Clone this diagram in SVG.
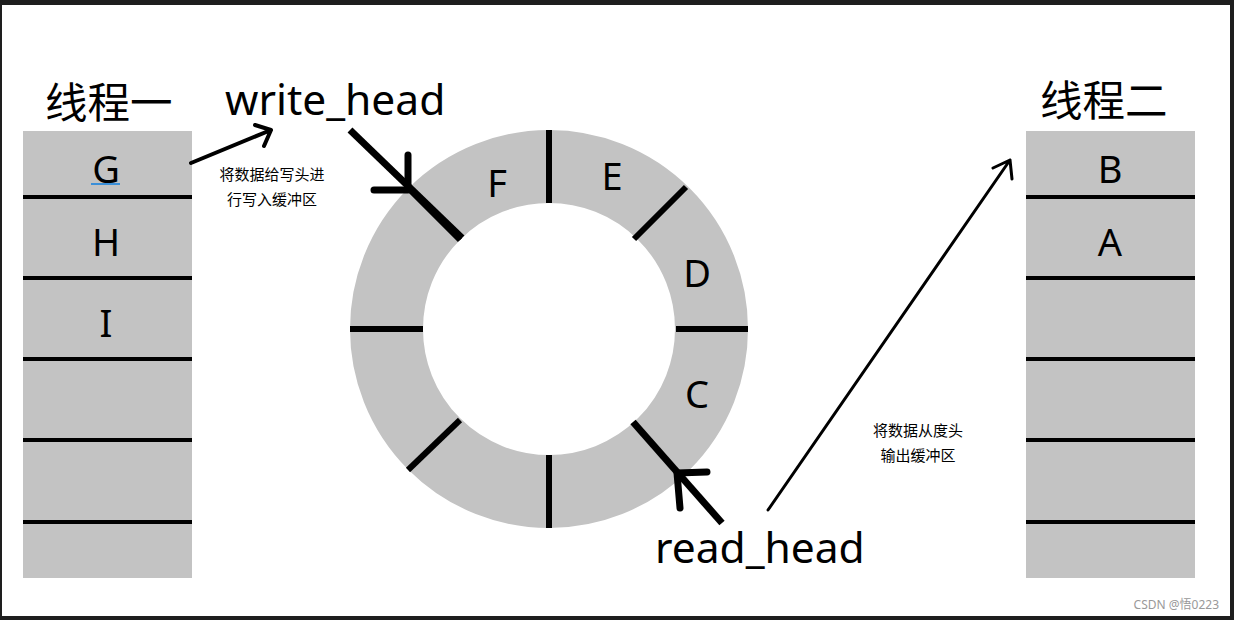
<svg xmlns="http://www.w3.org/2000/svg" width="1234" height="620" viewBox="0 0 1234 620">
<style>
text{font-family:"Noto Sans","Noto Sans CJK SC",sans-serif;fill:#000}
.big{font-size:42.5px}
.lab{font-size:38px;text-anchor:middle}
.sm{font-size:15px;text-anchor:middle}
.cell{fill:#c3c3c3}
.sep{stroke:#000;stroke-width:4}
.div{stroke:#000;stroke-width:6}
</style>
<rect x="0" y="0" width="1234" height="620" fill="#1e1e1e"/>
<rect x="2" y="5" width="1228" height="611" fill="#fff"/>
<g id="thread1">
<rect class="cell" x="23" y="131" width="169" height="447"/>
<path class="sep" d="M23 197H192M23 278H192M23 359H192M23 440H192M23 522H192"/>
<text class="lab" x="106" y="183">G</text>
<line x1="91" y1="184" x2="120" y2="184" stroke="#3a8fd8" stroke-width="2"/>
<text class="lab" x="106" y="256">H</text>
<text class="lab" x="106" y="337">I</text>
<text class="big" x="45" y="118">线程一</text>
</g>
<g id="thread2">
<rect class="cell" x="1026" y="131" width="169" height="447"/>
<path class="sep" d="M1026 197H1195M1026 278H1195M1026 359H1195M1026 440H1195M1026 522H1195"/>
<text class="lab" x="1110" y="183">B</text>
<text class="lab" x="1110" y="256">A</text>
<text class="big" x="1040" y="116">线程二</text>
</g>
<g id="ring">
<circle cx="549" cy="329" r="162.5" fill="none" stroke="#c3c3c3" stroke-width="73"/>
<g class="div">
<line x1="549" y1="130" x2="549" y2="203"/>
<line x1="549" y1="455" x2="549" y2="528"/>
<line x1="350" y1="329" x2="423" y2="329"/>
<line x1="676" y1="329" x2="748" y2="329"/>
<line x1="408" y1="188" x2="460" y2="240"/>
<line x1="686" y1="187" x2="634" y2="239"/>
<line x1="408" y1="470" x2="460" y2="420"/>
</g>
<text class="lab" x="497" y="197">F</text>
<text class="lab" x="612" y="190">E</text>
<text class="lab" x="697" y="287">D</text>
<text class="lab" x="697" y="408">C</text>
</g>
<g id="labels">
<text class="big" x="225" y="115">write_head</text>
<text class="big" x="655" y="563">read_head</text>
<text class="sm" x="272" y="180">将数据给写头进</text>
<text class="sm" x="272" y="205">行写入缓冲区</text>
<text class="sm" x="918" y="436">将数据从度头</text>
<text class="sm" x="918" y="461">输出缓冲区</text>
<text x="1219" y="609" style="font-size:12px;fill:#999;text-anchor:end">CSDN @悟0223</text>
</g>
<g id="connectors" fill="none" stroke="#000" stroke-linecap="round" stroke-linejoin="round">
<path d="M191 163L271 130M255 125L271 130L264 146" stroke-width="4"/>
<path d="M350 130L462 238" stroke-width="7" stroke-linecap="butt"/>
<path d="M408 155L408 190L374 190" stroke-width="7"/>
<path d="M633 422L722 523" stroke-width="7" stroke-linecap="butt"/>
<path d="M680 508L677 473L707 472" stroke-width="7"/>
<path d="M768 510L1010 160M993 168L1010 160L1012 179" stroke-width="3"/>
</g>
</svg>
